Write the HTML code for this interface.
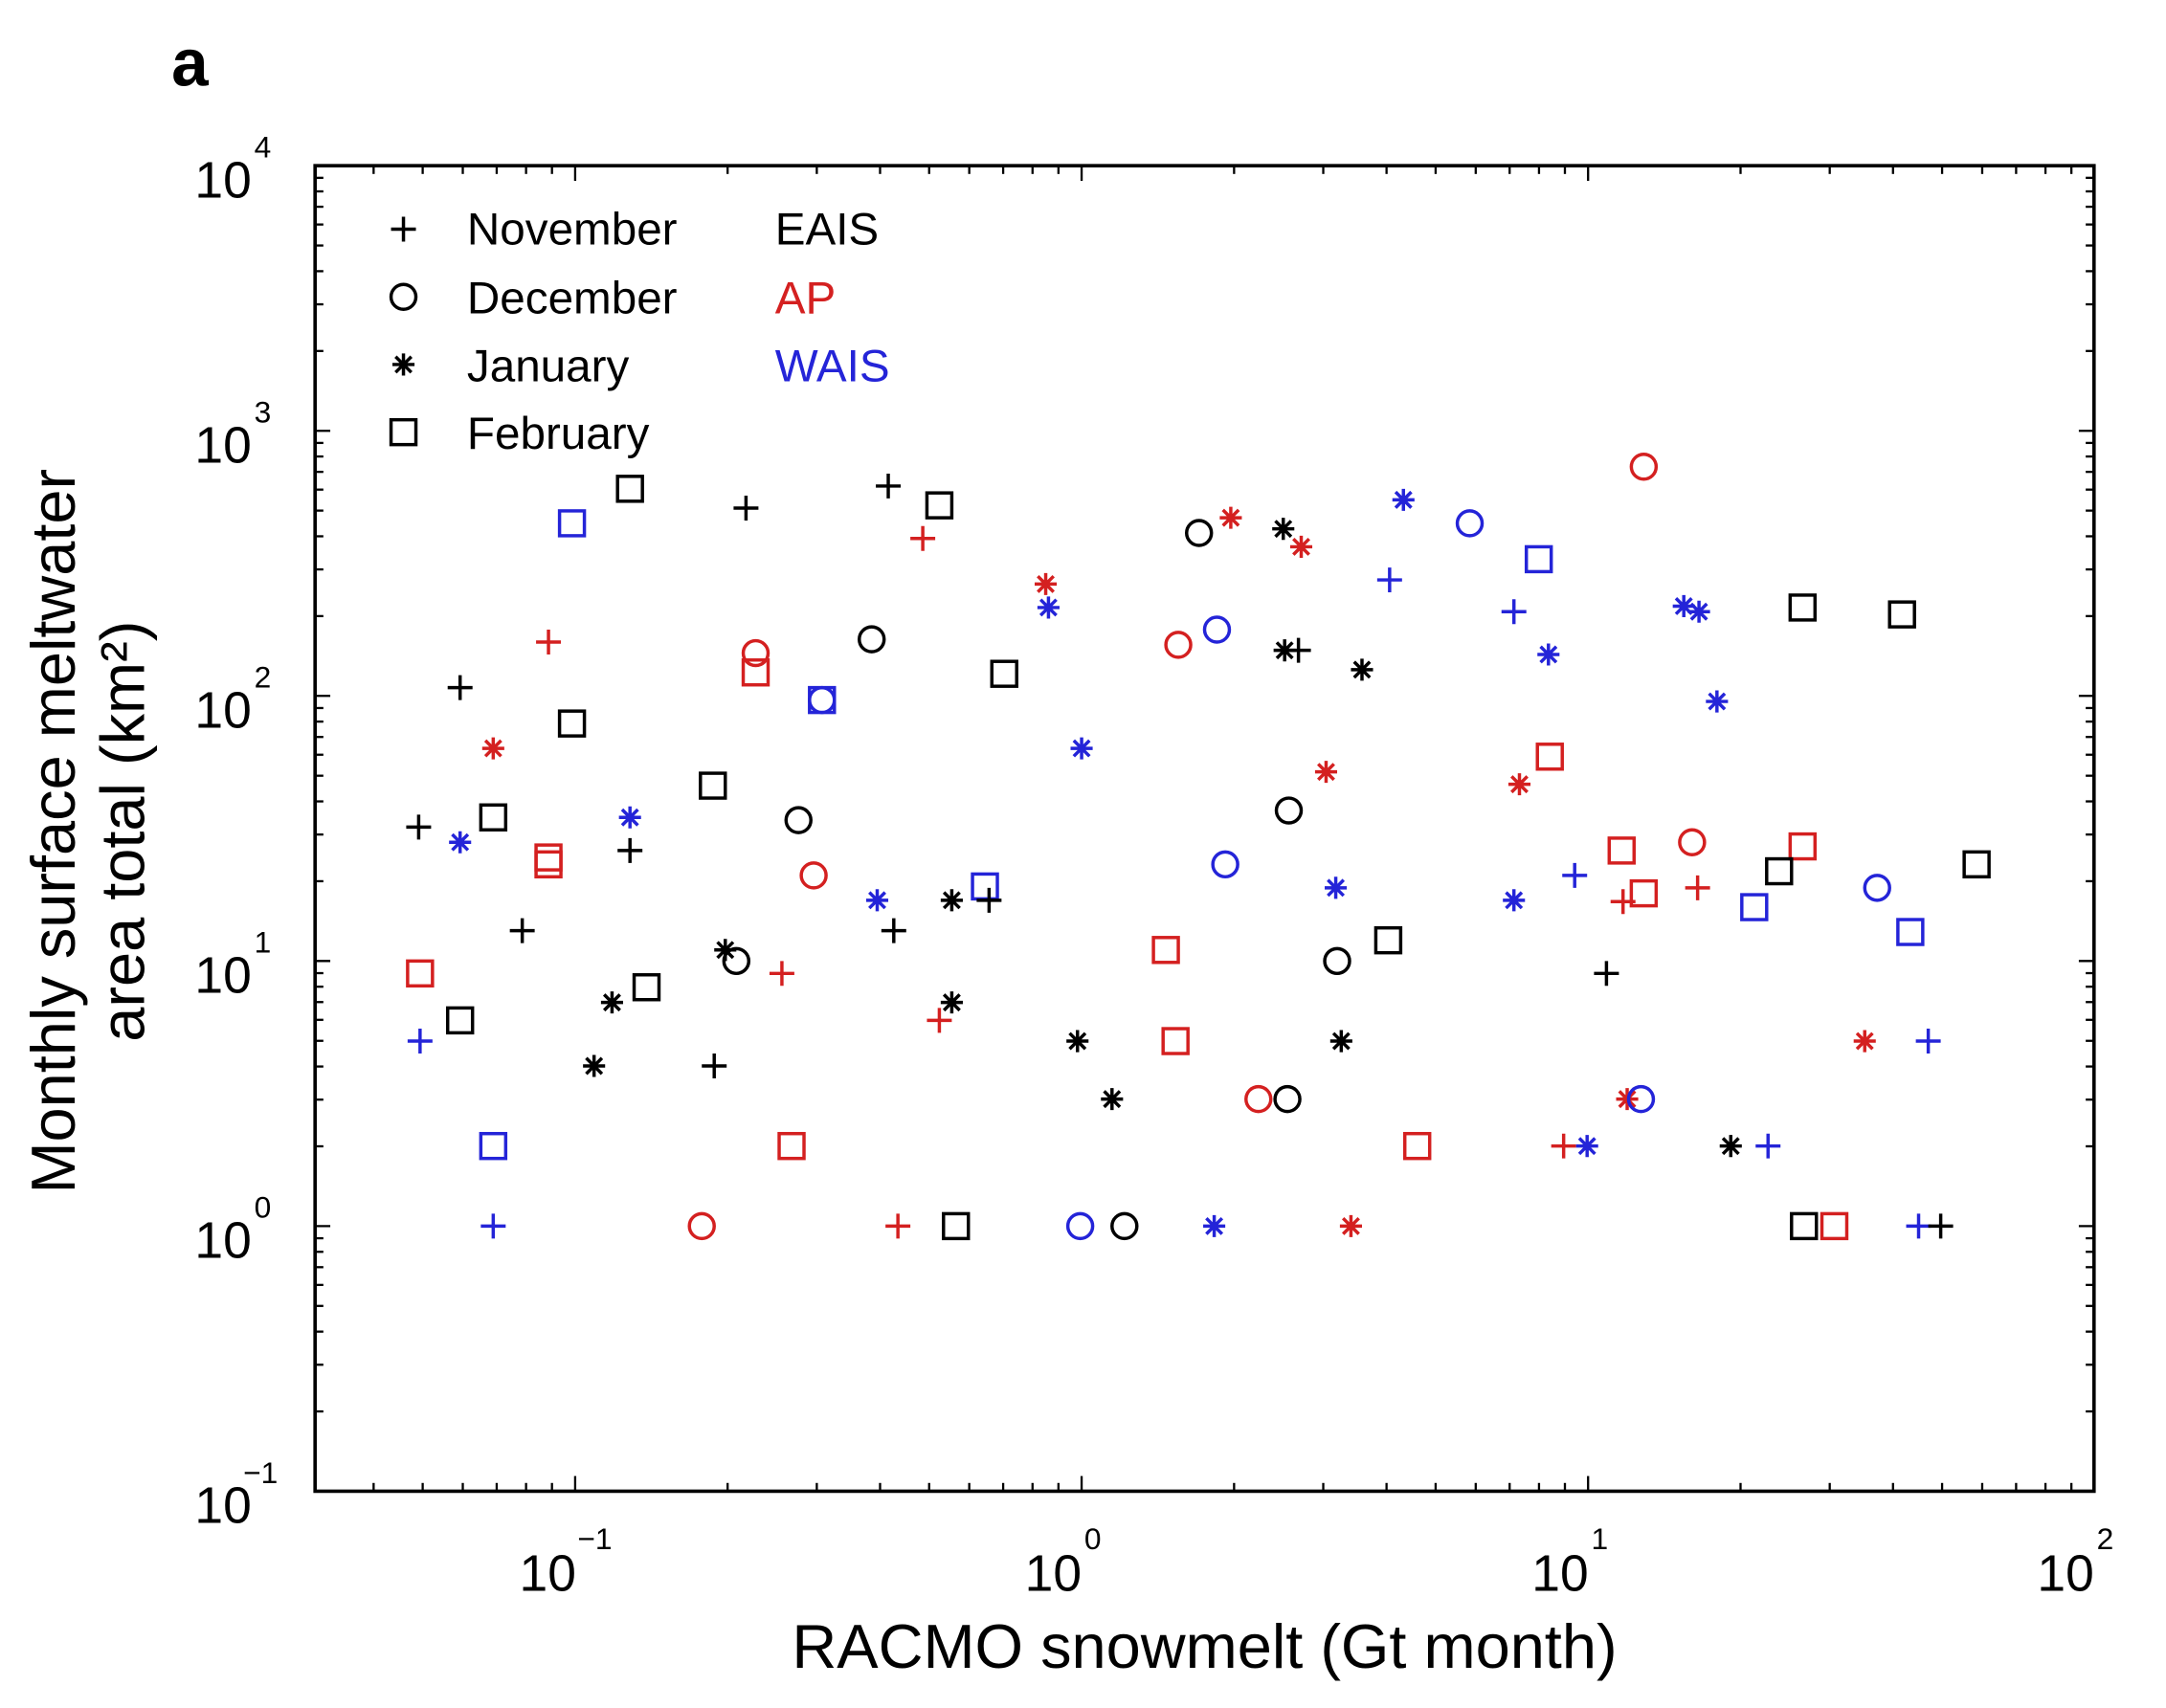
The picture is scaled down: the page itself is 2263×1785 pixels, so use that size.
<!DOCTYPE html>
<html><head><meta charset="utf-8"><style>html,body{margin:0;padding:0;background:#fff}svg{display:block}text{font-family:"Liberation Sans",Arial,sans-serif}</style></head>
<body>
<svg id="s" xmlns="http://www.w3.org/2000/svg" width="2263" height="1785" viewBox="0 0 1568 1237">
<rect width="1568" height="1237" fill="#fff"/>
<text x="124" y="62" font-size="48" font-weight="bold">a</text>
<g id="ticks" stroke="#000" stroke-width="1.6"></g>
<rect x="228" y="120" width="1288" height="960" fill="none" stroke="#000" stroke-width="2.5"/>
<g font-size="37" text-anchor="end">
<text x="182" y="143">10</text><text x="182" y="335">10</text><text x="182" y="527">10</text><text x="182" y="719">10</text><text x="182" y="911">10</text><text x="182" y="1103">10</text>
</g>
<g font-size="22">
<text x="184" y="114">4</text><text x="184" y="306">3</text><text x="184" y="498">2</text><text x="184" y="690">1</text><text x="184" y="882">0</text><text x="176" y="1074">−1</text>
</g>
<g font-size="37" text-anchor="end">
<text x="417" y="1152">10</text><text x="783" y="1152">10</text><text x="1150" y="1152">10</text><text x="1516" y="1152">10</text>
</g>
<g font-size="22">
<text x="418" y="1122">−1</text><text x="785" y="1122">0</text><text x="1152" y="1122">1</text><text x="1518" y="1122">2</text>
</g>
<text x="872" y="1208" font-size="45" text-anchor="middle">RACMO snowmelt (Gt month)</text>
<text transform="translate(54,602) rotate(-90)" font-size="45" text-anchor="middle">Monthly surface meltwater</text>
<text transform="translate(104,602) rotate(-90)" font-size="45" text-anchor="middle">area total (km²)</text>
<g font-size="33">
<text x="338" y="177">November</text><text x="338" y="227">December</text><text x="338" y="276">January</text><text x="338" y="325">February</text>
<text x="561" y="177">EAIS</text><text x="561" y="227" fill="#d42020">AP</text><text x="561" y="276" fill="#2424d8">WAIS</text>
</g>
<g id="m" fill="none" stroke-width="2.4"></g>
</svg>
<script>
var NS="http://www.w3.org/2000/svg";
function el(p,t,a){var e=document.createElementNS(NS,t);for(var k in a)e.setAttribute(k,a[k]);p.appendChild(e);return e;}
var T=document.getElementById("ticks");
for(var d=0;d<5;d++){for(var i=1;i<10;i++){var y=1080-(d+Math.log10(i))*192;var L=i==1?11:6;
el(T,"line",{x1:228,y1:y,x2:228+L,y2:y});el(T,"line",{x1:1516,y1:y,x2:1516-L,y2:y});}}
var x0=783;for(var d=-2;d<2;d++){for(var i=1;i<10;i++){var x=x0+(d+Math.log10(i))*366.7;if(x<229||x>1516)continue;var L=i==1?11:6;
el(T,"line",{x1:x,y1:1080,x2:x,y2:1080-L});el(T,"line",{x1:x,y1:120,x2:x,y2:120+L});}}
var C={k:"#000",r:"#d42020",b:"#2424d8"};
var M=document.getElementById("m");
function mk(x,y,t,c){var g=el(M,"g",{stroke:C[c]});
if(t=="p"){el(g,"path",{d:"M"+(x-9)+" "+y+"h18M"+x+" "+(y-9)+"v18"});}
else if(t=="o"){el(g,"circle",{cx:x,cy:y,r:9});}
else if(t=="s"){el(g,"rect",{x:x-9,y:y-9,width:18,height:18});}
else{var a=8,b=5.7;el(g,"path",{d:"M"+(x-a)+" "+y+"h"+2*a+"M"+x+" "+(y-a)+"v"+2*a+"M"+(x-b)+" "+(y-b)+"l"+2*b+" "+2*b+"M"+(x-b)+" "+(y+b)+"l"+2*b+" "+(-2*b)});}}
mk(292,166,"p","k");mk(292,215,"o","k");mk(292,264,"a","k");mk(292,313,"s","k");
var P=[[456,354,"s","k"],[414,379,"s","b"],[540,368,"p","k"],[643,352,"p","k"],[680,366,"s","k"],[668,390,"p","r"],[757,423,"a","r"],[759,440,"a","b"],[868,386,"o","k"],[891,375,"a","r"],[929,383,"a","k"],[942,396,"a","r"],[1190,338,"o","r"],[1016,362,"a","b"],[1064,379,"o","b"],[1006,420,"p","b"],[1114,405,"s","b"],[1096,443,"p","b"],[1121,474,"a","b"],[1219,439,"a","b"],[1230,443,"a","b"],[1305,440,"s","k"],[1377,445,"s","k"],[1243,508,"a","b"],[930,471,"a","k"],[940,471,"p","k"],[986,485,"a","k"],[853,467,"o","r"],[881,456,"o","b"],[631,463,"o","k"],[547,473,"o","r"],[547,487,"s","r"],[727,488,"s","k"],[595,507,"s","b"],[595,507,"o","b"],[397,465,"p","r"],[333,498,"p","k"],[414,524,"s","k"],[357,542,"a","r"],[783,542,"a","b"],[516,569,"s","k"],[960,559,"a","r"],[1100,568,"a","r"],[1122,548,"s","r"],[303,599,"p","k"],[357,592,"s","k"],[333,610,"a","b"],[456,592,"a","b"],[456,616,"p","k"],[397,621,"s","r"],[397,626,"s","r"],[578,594,"o","k"],[589,634,"o","r"],[933,587,"o","k"],[887,626,"o","b"],[967,643,"a","b"],[1005,681,"s","k"],[1174,616,"s","r"],[1225,610,"o","r"],[1305,613,"s","r"],[1288,631,"s","k"],[1431,626,"s","k"],[1359,643,"o","b"],[1270,657,"s","b"],[1383,675,"s","b"],[1140,634,"p","b"],[1175,653,"p","r"],[1190,647,"s","r"],[1229,643,"p","r"],[1096,652,"a","b"],[713,642,"s","b"],[716,652,"p","k"],[689,652,"a","k"],[635,652,"a","b"],[647,674,"p","k"],[378,674,"p","k"],[525,688,"a","k"],[533,696,"o","k"],[844,688,"s","r"],[968,696,"o","k"],[1163,705,"p","k"],[566,705,"p","r"],[304,705,"s","r"],[443,726,"a","k"],[689,726,"a","k"],[468,715,"s","k"],[333,739,"s","k"],[680,739,"p","r"],[304,754,"p","b"],[780,754,"a","k"],[851,754,"s","r"],[971,754,"a","k"],[1350,754,"a","r"],[1396,754,"p","b"],[430,772,"a","k"],[517,772,"p","k"],[805,796,"a","k"],[911,796,"o","r"],[932,796,"o","k"],[1178,796,"a","r"],[1188,796,"o","b"],[357,830,"s","b"],[573,830,"s","r"],[1026,830,"s","r"],[1132,830,"p","r"],[1149,830,"a","b"],[1253,830,"a","k"],[1280,830,"p","b"],[357,888,"p","b"],[508,888,"o","r"],[650,888,"p","r"],[692,888,"s","k"],[782,888,"o","b"],[814,888,"o","k"],[879,888,"a","b"],[978,888,"a","r"],[1306,888,"s","k"],[1328,888,"s","r"],[1389,888,"p","b"],[1405,888,"p","k"]];
P.forEach(function(p){mk(p[0],p[1],p[2],p[3]);});
</script>
</body></html>
